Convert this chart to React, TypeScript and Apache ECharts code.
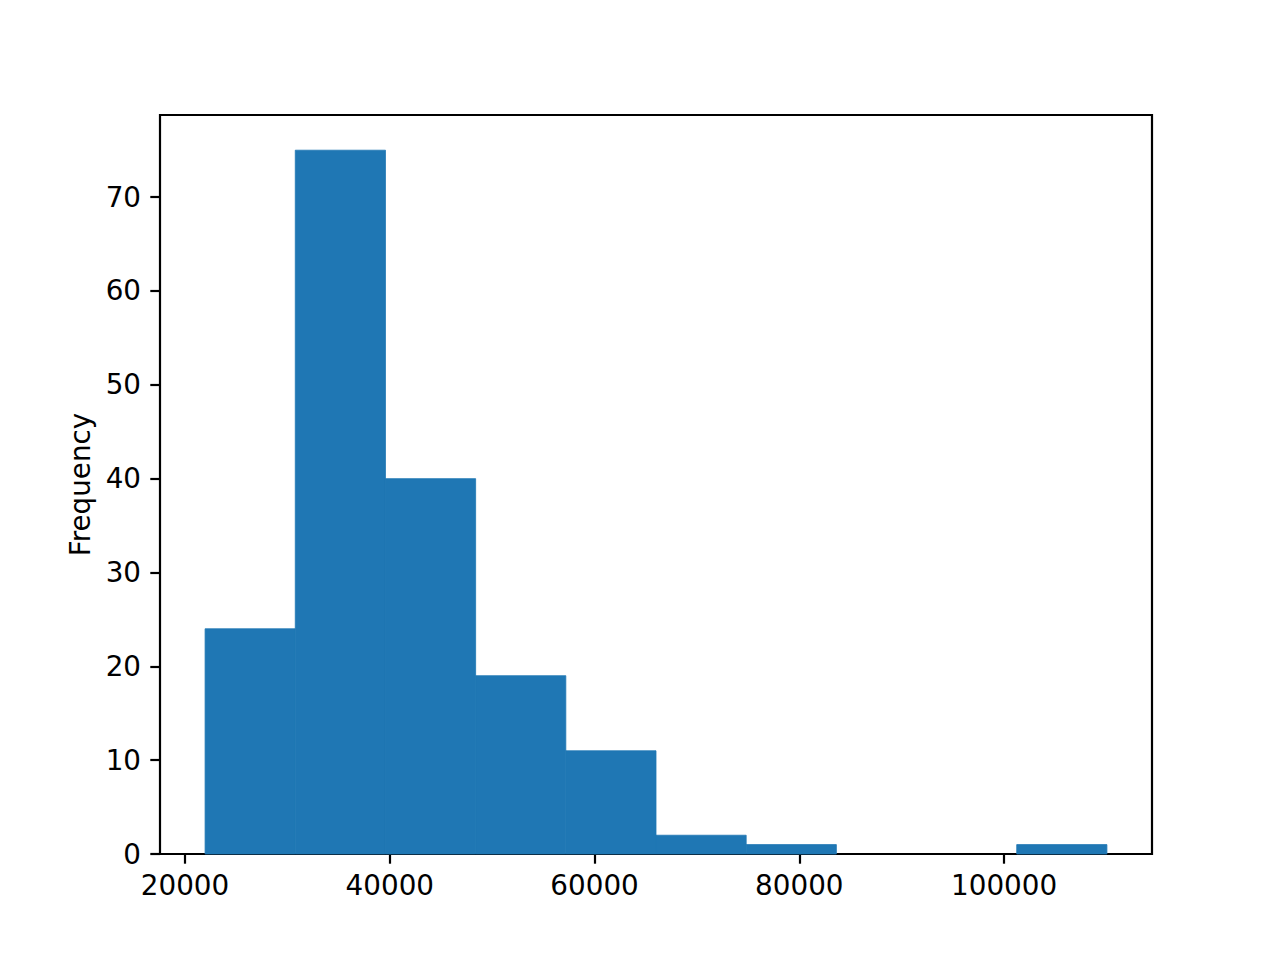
import React, { useEffect, useRef } from "react";
import * as echarts from "echarts";

const binEdges = [21960, 30768, 39576, 48384, 57192, 66000, 74808, 83616, 92424, 101232, 110040];
const counts = [24, 75, 40, 19, 11, 2, 1, 0, 0, 1];
const xTicks = [20000, 40000, 60000, 80000, 100000];
const yTicks = [0, 10, 20, 30, 40, 50, 60, 70];

const FONT = "DejaVu Sans";
const FS = 27.8;

export default function App() {
  const ref = useRef<HTMLDivElement>(null);
  useEffect(() => {
    document.body.style.margin = "0";
    const chart = echarts.init(ref.current!, null, { renderer: "svg" });
    const span = binEdges[binEdges.length - 1] - binEdges[0];
    const xMin = binEdges[0] - 0.05 * span;
    const xMax = binEdges[binEdges.length - 1] + 0.05 * span;
    const yMax = Math.max(...counts) * 1.05;
    const data = counts.map((c, i) => [binEdges[i], binEdges[i + 1], c]);
    chart.setOption({
      animation: false,
      backgroundColor: "#ffffff",
      grid: {
        left: 160,
        top: 115,
        right: 128,
        bottom: 106,
        show: true,
        borderColor: "#000",
        borderWidth: 2.2,
        backgroundColor: "transparent",
      },
      xAxis: {
        type: "value",
        min: xMin,
        max: xMax,
        splitLine: { show: false },
        axisLine: { show: false },
        axisTick: {
          show: true,
          length: 9.7,
          lineStyle: { color: "#000", width: 2.2 },
          customValues: xTicks,
        },
        axisLabel: {
          color: "#000",
          fontFamily: FONT,
          fontSize: FS,
          margin: 17,
          customValues: xTicks,
          formatter: (v: number) => String(v),
        },
      },
      yAxis: {
        type: "value",
        min: 0,
        max: yMax,
        name: "Frequency",
        nameLocation: "middle",
        nameGap: 64,
        nameRotate: 90,
        nameTextStyle: { color: "#000", fontFamily: FONT, fontSize: FS },
        splitLine: { show: false },
        axisLine: { show: false },
        axisTick: {
          show: true,
          length: 9.7,
          lineStyle: { color: "#000", width: 2.2 },
          customValues: yTicks,
        },
        axisLabel: {
          color: "#000",
          fontFamily: FONT,
          fontSize: FS,
          margin: 19,
          customValues: yTicks,
          formatter: (v: number) => String(v),
        },
      },
      series: [
        {
          type: "custom",
          data,
          encode: { x: [0, 1], y: 2 },
          renderItem: (params: any, api: any) => {
            const x0 = api.value(0);
            const x1 = api.value(1);
            const h = api.value(2);
            if (!h) return null;
            const p0 = api.coord([x0, h]);
            const p1 = api.coord([x1, 0]);
            return {
              type: "rect",
              shape: { x: p0[0], y: p0[1], width: p1[0] - p0[0], height: p1[1] - p0[1] },
              style: { fill: "#1f77b4", stroke: "#1f77b4", lineWidth: 0.8 },
            };
          },
          z: 1,
        },
      ],
    });
    return () => chart.dispose();
  }, []);
  return <div ref={ref} style={{ width: 1280, height: 960 }} />;
}
